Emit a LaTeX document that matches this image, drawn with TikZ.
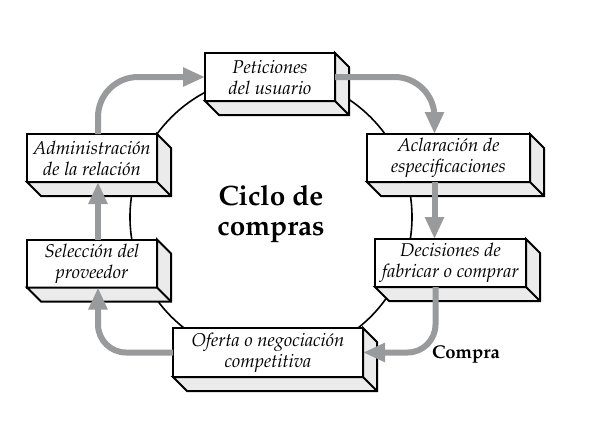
\documentclass[tikz,border=0pt]{standalone}
\usepackage[T1]{fontenc}
\usepackage{mathpazo}
\usetikzlibrary{arrows.meta}

\definecolor{flowgray}{HTML}{999A9C}
\definecolor{sidegray}{HTML}{EBEBEB}

\tikzset{
  stage/.style={draw, line width=2pt, fill=white, outer sep=0pt, align=center,
    minimum height=48pt, inner sep=0pt, font=\itshape\fontsize{18.5}{21}\selectfont},
  side/.style={draw, line width=2pt, fill=sidegray, line join=miter},
  flow/.style={draw=flowgray, line width=6pt, -{Triangle[length=22pt,width=18pt]}},
  ring/.style={line width=1.6pt}
}

\begin{document}
\begin{tikzpicture}[x=1pt, y=-1pt]
	\useasboundingbox (0,0) rectangle (593,424);

	% cycle
	\draw[ring] (271,217) circle (141pt);
	\node[font=\bfseries\fontsize{28}{30}\selectfont, align=center] (ciclo) at (271,214) {Ciclo de\\compras};

	% nodes
	\node[stage, minimum width=130pt] (pet) at (270,77) {Peticiones\\del usuario};
	\node[stage, minimum width=163pt] (acl) at (448.5,158) {Aclaraci\'on de\\especificaciones};
	\node[stage, minimum width=151pt] (dec) at (450.5,263) {Decisiones de\\fabricar o comprar};
	\node[stage, minimum width=190pt, minimum height=49pt] (ofe) at (268,352.5) {Oferta o negociaci\'on\\competitiva};
	\node[stage, minimum width=130pt] (sel) at (92,263.5) {Selecci\'on del\\proveedor};
	\node[stage, minimum width=130pt] (adm) at (92,158) {Administraci\'on\\de la relaci\'on};

	% sides
	\foreach \n in {pet,acl,dec,ofe,sel,adm} {
		\filldraw[side] (\n.north east) -- ++(14,14) -- ([shift={(14,14)}]\n.south east)
			-- ([shift={(14,14)}]\n.south west) -- (\n.south west) -- (\n.south east) -- cycle;
		\draw[side] (\n.south east) -- ++(14,14);
	}

	%arrows
	\draw[flow, rounded corners=40pt] ([xshift=6pt]adm.north) |- (pet.west);
	\draw[flow, rounded corners=40pt] (pet.east) -| ([xshift=-14pt]acl.north);
	\draw[flow] ([xshift=-14pt]acl.south) -- ([xshift=-14pt]acl.south |- dec.north);
	\draw[flow, rounded corners=28pt] ([xshift=-15pt]dec.south) |- (ofe.east);
	\draw[flow, rounded corners=28pt] (ofe.west) -| ([xshift=6pt]sel.south);
	\draw[flow] ([xshift=6pt]sel.north) -- ([xshift=6pt]adm.south);

	\node[font=\bfseries\fontsize{18.5}{21}\selectfont] (compra) at (466,354) {Compra};
\end{tikzpicture}
\end{document}
